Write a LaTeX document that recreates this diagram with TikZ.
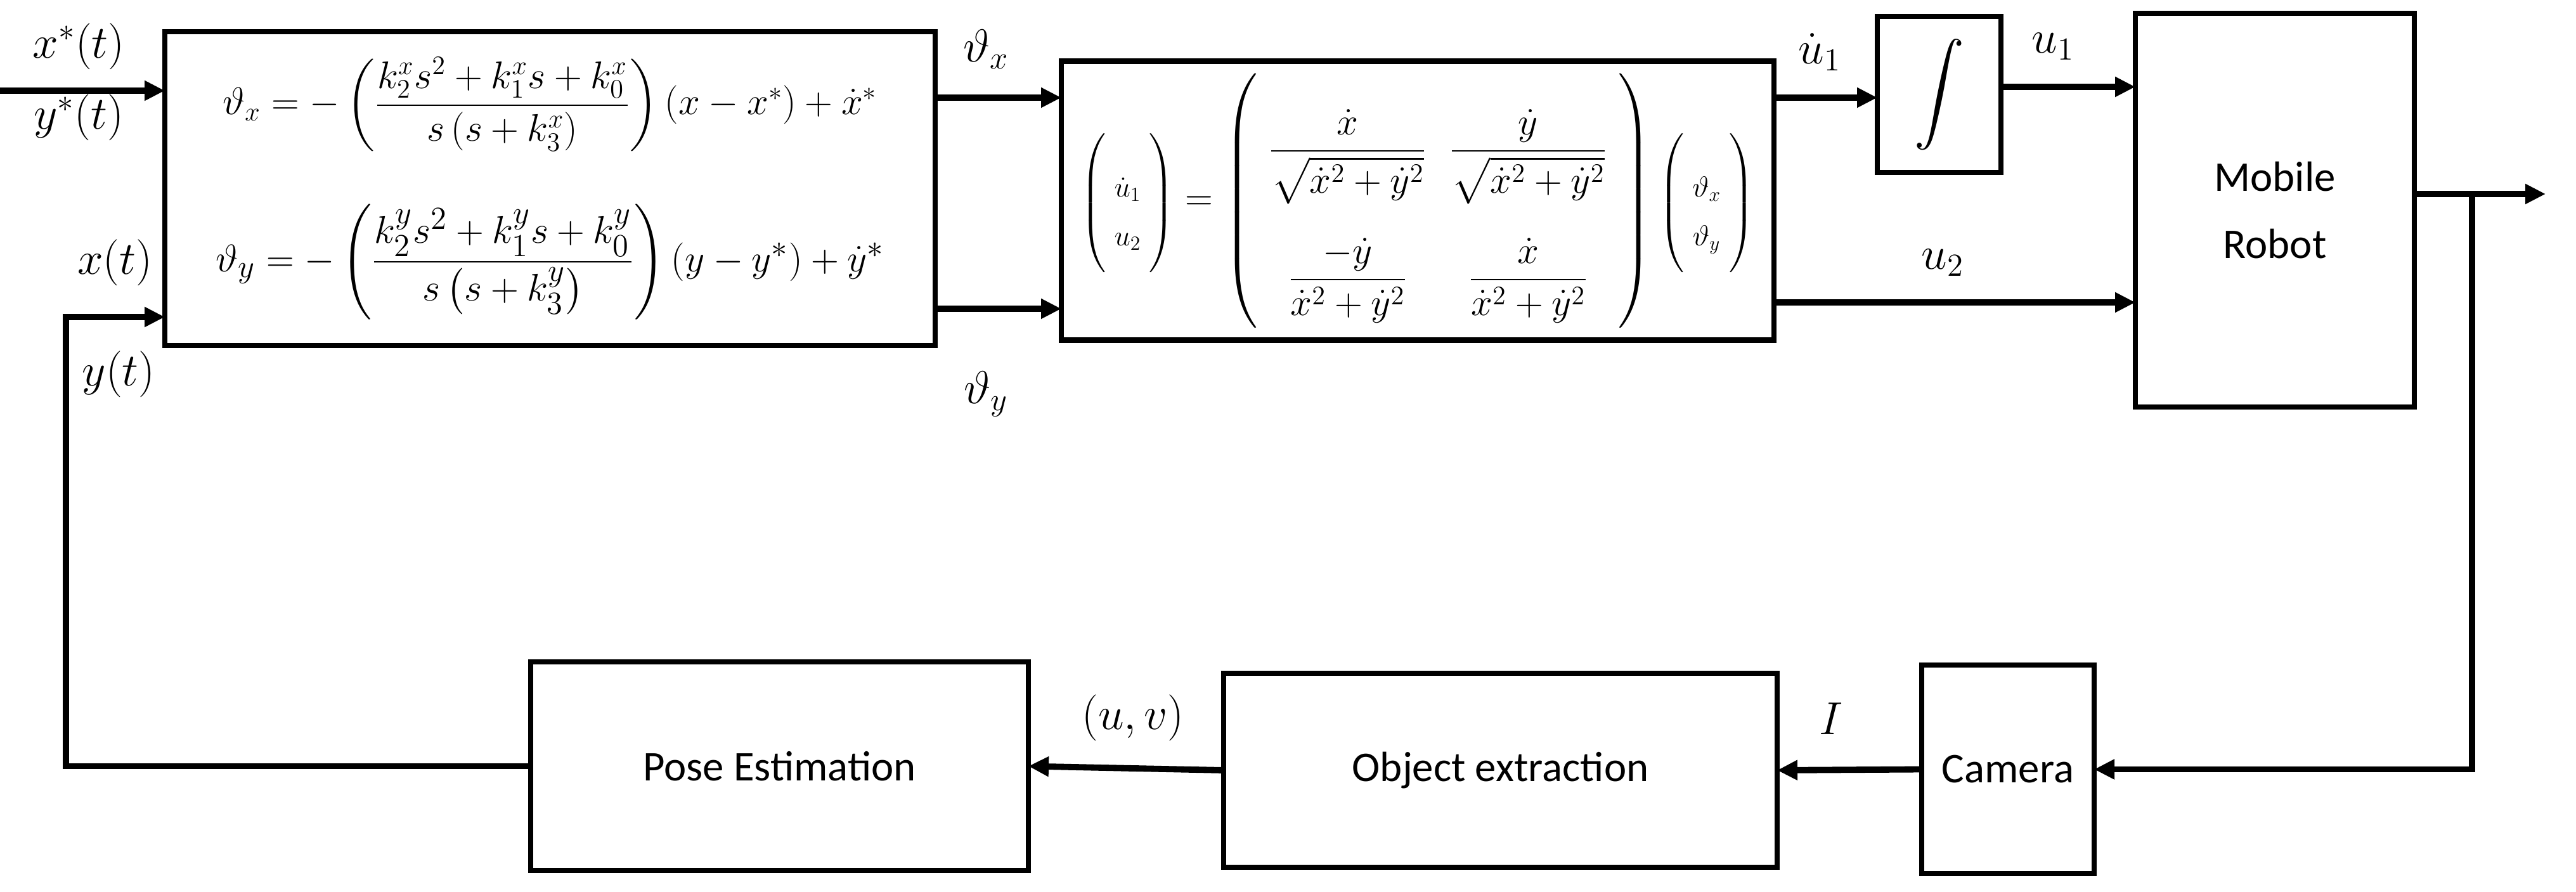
\documentclass[tikz,border=0pt]{standalone}
\usepackage{amsmath}
\usepackage{graphicx}
\usepackage{fontspec}
\setmainfont{Carlito}
\usetikzlibrary{arrows.meta, positioning}
\tikzset{
    block/.style={rectangle, draw, line width=2.4pt, inner sep=0pt, outer sep=0pt, align=center, font=\fontsize{19}{23}\selectfont},
    flow/.style={-{Triangle[length=0.32cm, width=0.3cm]}, line width=2.8pt},
    lbl/.style={font=\fontsize{20}{24}\selectfont}
}
\begin{document}
\begin{tikzpicture}
    \useasboundingbox (0,0) rectangle (40.63,-14.07);
    % controller blocks
    \node[block, minimum width=12.15cm, minimum height=4.95cm] (ctrl) at (8.675,-2.975) {%
        \fontsize{17}{21}\selectfont
        $\vartheta_x=-\left(\dfrac{k_2^x s^2+k_1^x s+k_0^x}{s\left(s+k_3^x\right)}\right)(x-x^*)+\dot{x}^*$\\[0.8cm]
        $\vartheta_y=-\left(\dfrac{k_2^y s^2+k_1^y s+k_0^y}{s\left(s+k_3^y\right)}\right)(y-y^*)+\dot{y}^*$};
    \node[block, minimum width=11.24cm, minimum height=4.40cm] (conv) at (22.36,-3.165) {%
        \fontsize{17}{21}\selectfont\renewcommand{\arraystretch}{2.6}%
        $\scalebox{0.75}{$\left(\begin{array}{c}\dot u_1\\[-0.9cm] u_2\end{array}\right)$}=
        \left(\begin{array}{cc}\dfrac{\dot x}{\sqrt{\dot x^2+\dot y^2}} & \dfrac{\dot y}{\sqrt{\dot x^2+\dot y^2}}\\
        \dfrac{-\dot y}{\dot x^2+\dot y^2} & \dfrac{\dot x}{\dot x^2+\dot y^2}\end{array}\right)
        \scalebox{0.75}{$\left(\begin{array}{c}\vartheta_x\\[-0.9cm] \vartheta_y\end{array}\right)$}$};
    \node[block, minimum width=1.95cm, minimum height=2.46cm] (integ) at (30.585,-1.49) {\scalebox{1.3}{$\displaystyle\int$}};
    \node[block, minimum width=4.40cm, minimum height=6.21cm] (robot) at (35.88,-3.315) {Mobile\\[0.25cm] Robot};
    % feedback blocks
    \node[block, minimum width=2.72cm, minimum height=3.29cm] (camera) at (31.67,-12.135) {Camera};
    \node[block, minimum width=8.73cm, minimum height=3.06cm] (objext) at (23.665,-12.15) {Object extraction};
    \node[block, minimum width=7.85cm, minimum height=3.29cm] (pose) at (12.295,-12.085) {Pose Estimation};

    % signal levels
    \coordinate (yref) at (0,-1.43);
    \coordinate (yth1) at (0,-1.54);
    \coordinate (yth2) at (0,-4.87);
    \coordinate (yu2) at (0,-4.77);
    \coordinate (yu1) at (0,-1.37);
    \coordinate (yout) at (0,-3.06);
    \coordinate (yfb) at (0,-5.00);
    \coordinate (start) at (0,-1.43);
    \coordinate (fbx) at (1.04,0);
    \coordinate (brx) at (38.99,0);
    \coordinate (outx) at (40.15,0);

    % connectors
    \draw[flow] (start) -- (ctrl.west |- yref);
    \draw[flow] (ctrl.east |- yth1) -- (conv.west |- yth1);
    \draw[flow] (ctrl.east |- yth2) -- (conv.west |- yth2);
    \draw[flow] (conv.east |- yth1) -- (integ.west |- yth1);
    \draw[flow] (integ.east |- yu1) -- (robot.west |- yu1);
    \draw[flow] (conv.east |- yu2) -- (robot.west |- yu2);
    \draw[flow] (robot.east |- yout) -- (outx |- yout);
    \draw[flow] (brx |- yout) |- (camera.east);
    \draw[flow] (camera.west) -- (objext.east);
    \draw[flow] (objext.west) -- (pose.east);
    \draw[flow] (pose.west) -| (fbx |- yfb) -- (ctrl.west |- yfb);

    % labels
    \node[lbl] (lxs) at (1.24,-0.73) {$x^*(t)$};
    \node[lbl] (lys) at (1.24,-1.85) {$y^*(t)$};
    \node[lbl] (lx) at (1.81,-4.14) {$x(t)$};
    \node[lbl] (ly) at (1.87,-5.90) {$y(t)$};
    \node[lbl] (lthx) at (15.55,-0.78) {$\vartheta_x$};
    \node[lbl] (lthy) at (15.55,-6.22) {$\vartheta_y$};
    \node[lbl] (ludot) at (28.70,-0.82) {$\dot u_1$};
    \node[lbl] (lu1) at (32.38,-0.73) {$u_1$};
    \node[lbl] (lu2) at (30.64,-4.14) {$u_2$};
    \node[lbl] (lI) at (28.88,-11.34) {$I$};
    \node[lbl] (luv) at (17.87,-11.32) {$(u,v)$};
\end{tikzpicture}
\end{document}
